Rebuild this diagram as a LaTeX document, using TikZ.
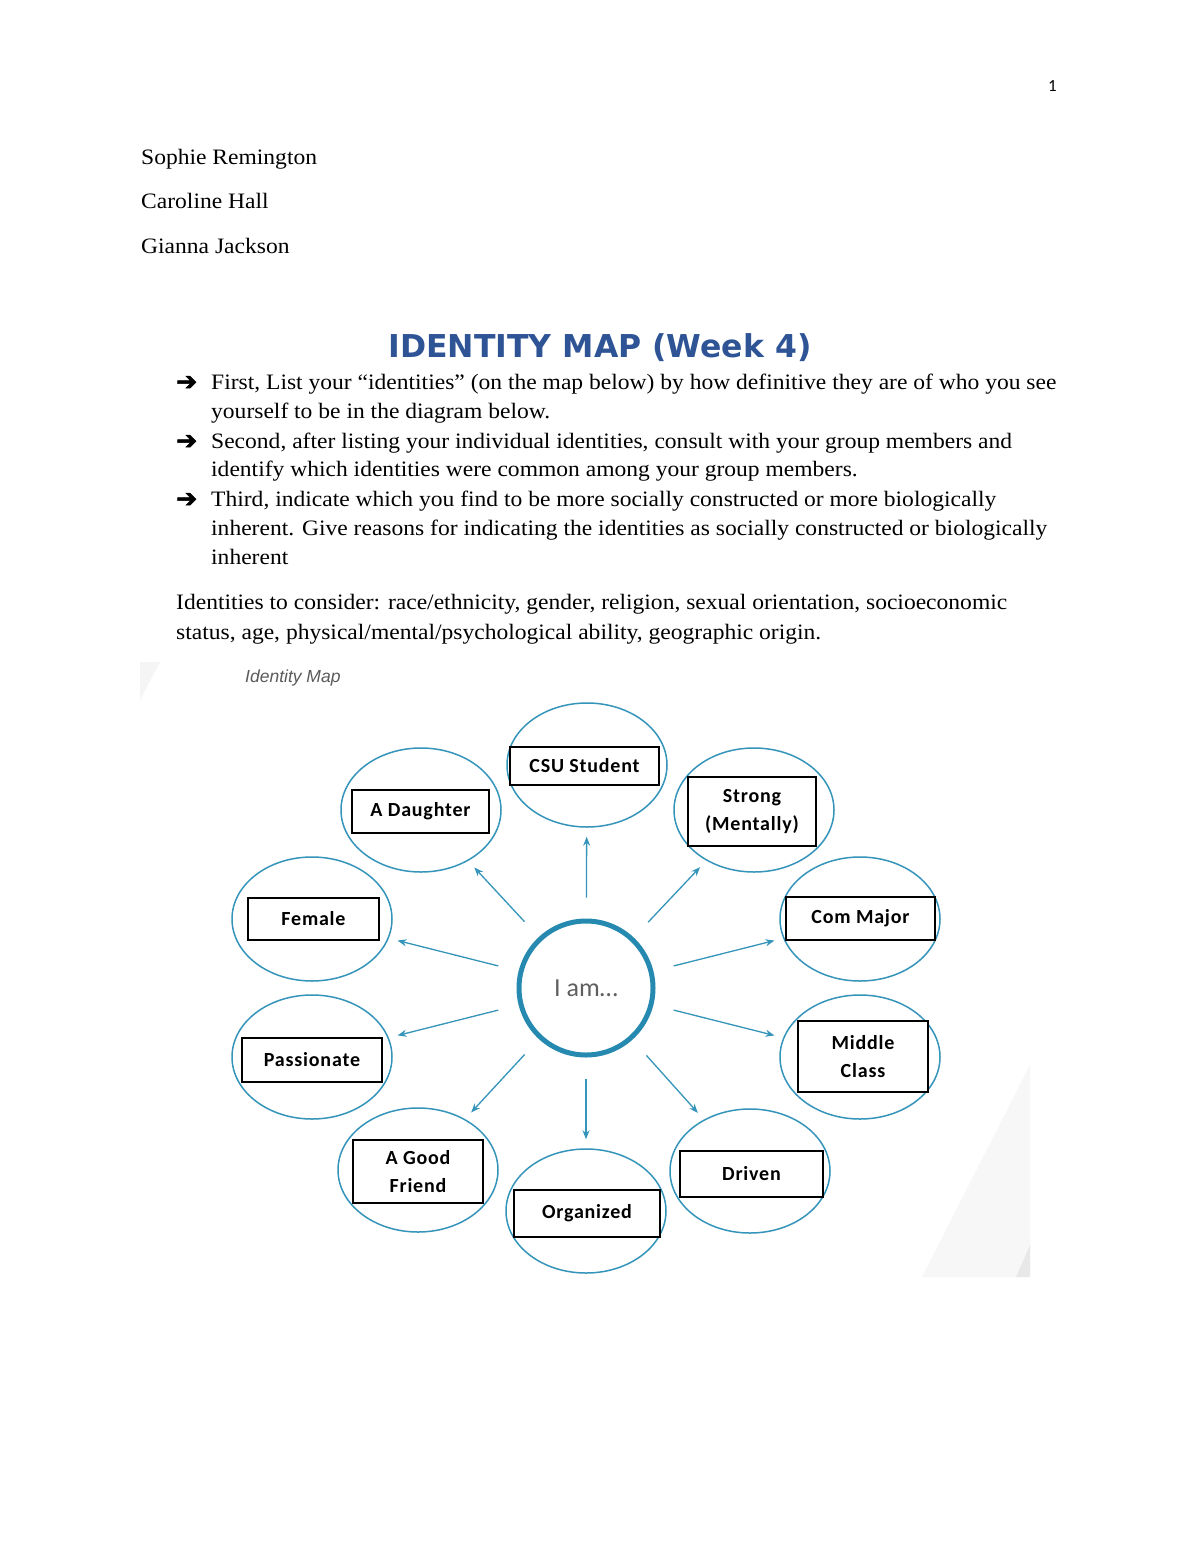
\documentclass[tikz,border=0pt]{standalone}
\usepackage{fontspec}
\setmainfont{Liberation Serif}[FakeStretch=1.07]
\newfontfamily\boxfont{Carlito}[LetterSpace=4]
\newfontfamily\amfont{Carlito}
\newfontfamily\titlefont{DejaVu Sans}
\newfontfamily\bulfont{DejaVu Sans}[FakeBold=2.5]
\newfontfamily\capfont{Liberation Sans}
\usetikzlibrary{shapes.geometric,arrows.meta}
\definecolor{tealc}{RGB}{52,148,186}
\definecolor{tealdark}{RGB}{38,138,176}
\definecolor{titleblue}{RGB}{46,84,150}
\definecolor{amgray}{RGB}{95,95,95}
\definecolor{capgray}{RGB}{90,90,90}
\tikzset{
  ell/.style={draw=tealc, line width=1.5pt, ellipse, minimum width=160pt, minimum height=124pt, inner sep=0pt},
  idbox/.style={draw=black, line width=1.6pt, fill=white, rectangle, inner sep=0pt, align=center,
    font=\boxfont\bfseries\fontsize{20}{28}\selectfont},
  arr/.style={draw=tealc, line width=1.3pt, -{Stealth[length=9pt,width=7pt]}, shorten <=21pt, shorten >=9pt},
  body/.style={anchor=base west, inner sep=0pt, font=\fontsize{22}{26}\selectfont},
  bul/.style={anchor=base west, inner sep=0pt, font=\bulfont\fontsize{25}{25}\selectfont},
}
\begin{document}
\begin{tikzpicture}[x=1pt,y=-1pt]
\fill[white] (0,0) rectangle (1200,1553);
\useasboundingbox (0,0) rectangle (1200,1553);
% faint background shapes
\fill[gray!8] (140,662) -- (160,662) -- (140,700) -- cycle;
\fill[gray!6] (1030,1065) -- (1030,1277) -- (922,1277) -- cycle;
\fill[gray!18] (1030,1245) -- (1030,1277) -- (1016,1277) -- cycle;
% page number
\node[anchor=base west, inner sep=0pt, font=\amfont\fontsize{17}{17}\selectfont] (pg) at (1048,91) {1};
% names
\node[body] (n1) at (141,164) {Sophie Remington};
\node[body] (n2) at (141,208) {Caroline Hall};
\node[body] (n3) at (141,253) {Gianna Jackson};
% title
\node[anchor=base, inner sep=0pt, font=\titlefont\bfseries\fontsize{31.5}{31.5}\selectfont, text=titleblue] (title) at (600,357) {IDENTITY MAP (Week 4)};
% bullets
\node[bul] (b1) at (176,390) {➔};
\node[bul] (b2) at (176,449) {➔};
\node[bul] (b3) at (176,507) {➔};
\node[body] (l1) at (211,389) {First, List your “identities” (on the map below) by how definitive they are of who you see};
\node[body] (l2) at (211,418) {yourself to be in the diagram below.};
\node[body] (l3) at (211,448) {Second, after listing your individual identities, consult with your group members and};
\node[body] (l4) at (211,476) {identify which identities were common among your group members.};
\node[body] (l5) at (211,506) {Third, indicate which you find to be more socially constructed or more biologically};
\node[body] (l6) at (211,535) {inherent. Give reasons for indicating the identities as socially constructed or biologically};
\node[body] (l7) at (211,564) {inherent};
\node[body] (i1) at (176,609) {Identities to consider: race/ethnicity, gender, religion, sexual orientation, socioeconomic};
\node[body] (i2) at (176,639) {status, age, physical/mental/psychological ability, geographic origin.};
% caption
\node[anchor=base west, inner sep=0pt, font=\capfont\itshape\fontsize{17.5}{17.5}\selectfont, text=capgray] (cap) at (245,682) {Identity Map};
% center
\node[circle, draw=tealdark, line width=5pt, minimum size=134pt, inner sep=0pt, font=\amfont\fontsize{26}{26}\selectfont, text=amgray] (c) at (586,988) {I am…};
% ellipses
\node[ell] (e1) at (587,765) {};
\node[ell] (e2) at (421,810) {};
\node[ell] (e3) at (754,810) {};
\node[ell] (e4) at (312,919) {};
\node[ell] (e5) at (860,919) {};
\node[ell] (e6) at (312,1057) {};
\node[ell] (e7) at (860,1057) {};
\node[ell] (e8) at (418,1170) {};
\node[ell] (e9) at (586,1211) {};
\node[ell] (e10) at (750,1171) {};
% boxes
\node[idbox, minimum width=149pt, minimum height=38pt] (t1) at (584.5,766) {CSU Student};
\node[idbox, minimum width=137pt, minimum height=43pt] (t2) at (420.5,811.5) {A Daughter};
\node[idbox, minimum width=128pt, minimum height=69pt] (t3) at (752,811.5) {Strong\\(Mentally)};
\node[idbox, minimum width=131pt, minimum height=42pt] (t4) at (313.5,919) {Female};
\node[idbox, minimum width=149pt, minimum height=43pt] (t5) at (860.5,918.5) {Com Major};
\node[idbox, minimum width=140pt, minimum height=44pt] (t6) at (312,1060) {Passionate};
\node[idbox, minimum width=130pt, minimum height=71pt] (t7) at (863,1056.5) {Middle\\Class};
\node[idbox, minimum width=130pt, minimum height=63pt] (t8) at (418,1171.5) {A Good\\Friend};
\node[idbox, minimum width=146pt, minimum height=47pt] (t9) at (587,1213.5) {Organized};
\node[idbox, minimum width=143pt, minimum height=46pt] (t10) at (751.5,1174) {Driven};
% arrows
\foreach \e in {e1,e2,e3,e4,e5,e6,e7,e8,e9,e10}
  \draw[arr] (c) -- (\e);
\end{tikzpicture}
\end{document}
